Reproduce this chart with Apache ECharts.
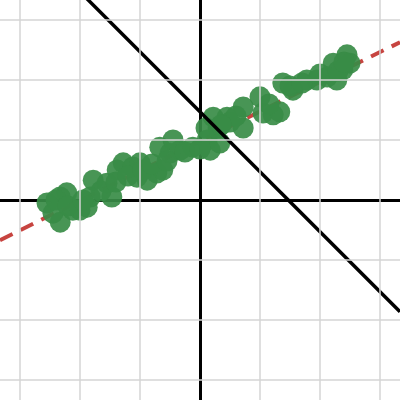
<!DOCTYPE html>
<html>
<head>
<meta charset="utf-8">
<script src="https://cdn.jsdelivr.net/npm/echarts@6/dist/echarts.min.js"></script>
<style>html,body{margin:0;background:#fff}#c{width:400px;height:400px}</style>
</head>
<body>
<div id="c"></div>
<script>
// scatter points (x, y)
var xs = [-2.55,-2.33,-2.22,-2.45,-2.33,-2.12,-2.0,-1.88,-1.83,-1.78,-1.55,-1.47,-1.38,-1.28,-1.12,-1.0,-1.05,-0.88,-0.72,-0.62,
  -0.67,-0.5,-0.45,-0.33,-0.12,0.12,0.17,0.33,0.22,0.45,0.72,0.72,1.0,1.05,1.22,1.33,1.38,1.55,1.78,1.95,2.12,2.22,2.28,2.38,2.45,2.5,
  -2.4,-2.2,-1.95,-1.65,-1.4,-1.2,-0.95,-0.8,-0.55,-0.25,0.0,0.3,0.5,0.6,1.15,1.5,1.7,2.0,2.3,2.4,0.1,0.35];
var ys = [-0.05,0.05,0.12,-0.22,-0.37,-0.17,-0.17,-0.12,0.05,0.33,0.28,0.05,0.5,0.62,0.55,0.62,0.38,0.33,0.45,0.5,
  0.88,0.78,1.0,0.83,0.88,1.0,0.83,0.95,1.38,1.38,1.55,1.2,1.72,1.45,1.42,1.47,1.95,1.83,2.0,2.0,2.05,2.28,2.0,2.17,2.42,2.28,
  0.0,-0.1,0.0,0.15,0.3,0.4,0.5,0.6,0.65,0.8,0.85,1.2,1.3,1.4,1.6,1.9,1.95,2.1,2.15,2.3,1.2,1.25];
// fitted line y = fitSlope*x + fitIntercept, and the black line y = -x + blackIntercept
var fitSlope = 0.495, fitIntercept = 0.98;
var blackIntercept = 1.47;
var gridTicks = [-3, -2, -1, 1, 2, 3];
var lim = 10 / 3;

var pts = xs.map(function (x, i) { return [x, ys[i]]; });
var xEnds = [-lim, lim];
var gridLines = [];
gridTicks.forEach(function (t) { gridLines.push({xAxis: t}); gridLines.push({yAxis: t}); });

var chart = echarts.init(document.getElementById('c'));
chart.setOption({
  animation: false,
  grid: {left: 0, top: 0, right: 0, bottom: 0},
  xAxis: {type: 'value', min: -lim, max: lim,
    axisLine: {onZero: true, lineStyle: {color: '#000', width: 3}},
    axisTick: {show: false}, axisLabel: {show: false}, splitLine: {show: false}},
  yAxis: {type: 'value', min: -lim, max: lim,
    axisLine: {onZero: true, lineStyle: {color: '#000', width: 3}},
    axisTick: {show: false}, axisLabel: {show: false}, splitLine: {show: false}},
  series: [
    {type: 'line', z: 1, symbol: 'none', silent: true, data: [],
      markLine: {silent: true, symbol: 'none', label: {show: false},
        lineStyle: {color: '#d4d4d4', width: 1.5, type: 'solid'}, data: gridLines}},
    {type: 'line', z: 2, symbol: 'none', silent: true,
      data: xEnds.map(function (x) { return [x, fitSlope * x + fitIntercept]; }),
      lineStyle: {color: '#c74440', width: 4, type: [14, 9]}},
    {type: 'scatter', z: 3, symbolSize: 21, data: pts,
      itemStyle: {color: '#388c46', opacity: 0.92}},
    {type: 'line', z: 4, symbol: 'none', silent: true,
      data: xEnds.map(function (x) { return [x, -x + blackIntercept]; }),
      lineStyle: {color: '#000', width: 3.5}}
  ]
});
</script>
</body>
</html>
